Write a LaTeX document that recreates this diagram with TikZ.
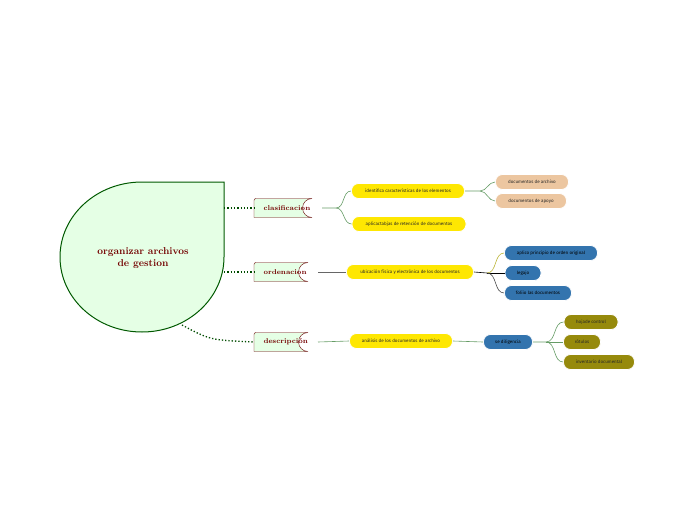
\documentclass[tikz,border=0pt]{standalone}
\usepackage{fontspec}
\setsansfont{Fira Sans}
\begin{document}
\begin{tikzpicture}[x=1pt,y=-1pt,
 pill/.style={rounded corners=7pt,minimum height=15pt,inner sep=1pt,font=\sffamily\fontsize{4.5}{5}\selectfont,text=black!85,draw=white,line width=0.8pt},
 yel/.style={pill,fill=yellow!90!orange},
 tan/.style={pill,fill=brown!35!white!85!orange},
 blu/.style={pill,fill=cyan!60!blue!80!black,text=black},
 oli/.style={pill,fill=olive!85!brown},
 mainn/.style={draw=red!40!black,fill=green!10!white,minimum height=19pt,inner sep=0pt,font=\bfseries\fontsize{7}{8}\selectfont,text=red!45!black},
 dotc/.style={green!30!black,dotted,line width=1.3pt},
 con/.style={green!35!black!60,line width=0.6pt}]
\useasboundingbox (0,0) rectangle (697,520);
% central
\fill[green!10!white,draw=green!35!black,line width=1pt] (224,182) -- (142,182) arc[start angle=90,end angle=360,x radius=82,y radius=-75] -- cycle;
\node[font=\bfseries\fontsize{10}{12}\selectfont,text=red!45!black,align=center] (c) at (143,258) {organizar archivos\\de gestion};
\coordinate (c1) at (224,208); \coordinate (c2) at (224,272); \coordinate (c3) at (182,325);
% main nodes
\foreach \n/\y/\w/\t in {m1/208/68/clasificacion, m2/272/64/ordenacion, m3/342/64/descripción}{
 \draw[red!40!black,fill=green!10!white] (254,\y-9.5) -- (254+\w-10,\y-9.5) arc[start angle=90,end angle=-90,radius=-9.5] -- (254,\y+9.5) [rounded corners=2pt] -- cycle;
 \node[font=\bfseries\fontsize{7}{8}\selectfont,text=red!45!black,anchor=west] (\n) at (260,\y) {\t};
 \coordinate (\n w) at (254,\y); \coordinate (\n e) at (254+\w,\y);
}
\draw[dotc] (c1) -- (m1w); \draw[dotc] (c2) -- (m2w); \draw[dotc] (c3) .. controls (210,340) .. (m3w);
% yellow
\node[yel,minimum width=113pt] (y1) at (408,191) {identifica características de los elementos};
\node[yel,minimum width=114pt] (y2) at (409,224) {aplicactabjas de retención de documentos};
\node[yel,minimum width=127pt] (y3) at (410,272) {ubicación física y electrónica de los documentos};
\node[yel,minimum width=103pt] (y4) at (401,341) {análisis de los documentos de archivo};
% tan
\node[tan,minimum width=73pt] (t1) at (532,182) {documentos de archivo};
\node[tan,minimum width=71pt] (t2) at (531,201) {documentos de apoyo};
% blue
\node[blu,minimum width=93pt] (b1) at (551,253) {aplico principio de orden original};
\node[blu,minimum width=36pt] (b2) at (523,273) {legajo};
\node[blu,minimum width=67pt] (b3) at (538,293) {foliio las documentos};
\node[blu,minimum width=49pt] (b4) at (508,342) {se diligencia};
% olive
\node[oli,minimum width=54pt] (o1) at (591,322) {hojade control};
\node[oli,minimum width=37pt] (o2) at (582,342) {rótulos};
\node[oli,minimum width=71pt] (o3) at (599,362) {inventario documental};
% connectors
\draw[con] (m1e) -- (336,208) to[out=0,in=180] (y1.west);
\draw[con] (336,208) to[out=0,in=180] (y2.west);
\draw[con,black!60] (m2e) -- (y3.west);
\draw[con] (m3e) -- (y4.west);
\draw[con] (y1.east) -- (480,191) to[out=0,in=180] (t1.west);
\draw[con] (480,191) to[out=0,in=180] (t2.west);
\draw[con,black] (y3.east) -- (487,273);
\draw[con,yellow!70!black] (487,273) to[out=0,in=180] (b1.west);
\draw[con,black] (487,273) -- (b2.west);
\draw[con,black!70] (487,273) to[out=0,in=180] (b3.west);
\draw[con] (y4.east) -- (b4.west);
\draw[con] (b4.east) -- (546,342) to[out=0,in=180] (o1.west);
\draw[con] (546,342) -- (o2.west);
\draw[con] (546,342) to[out=0,in=180] (o3.west);
\end{tikzpicture}
\end{document}
